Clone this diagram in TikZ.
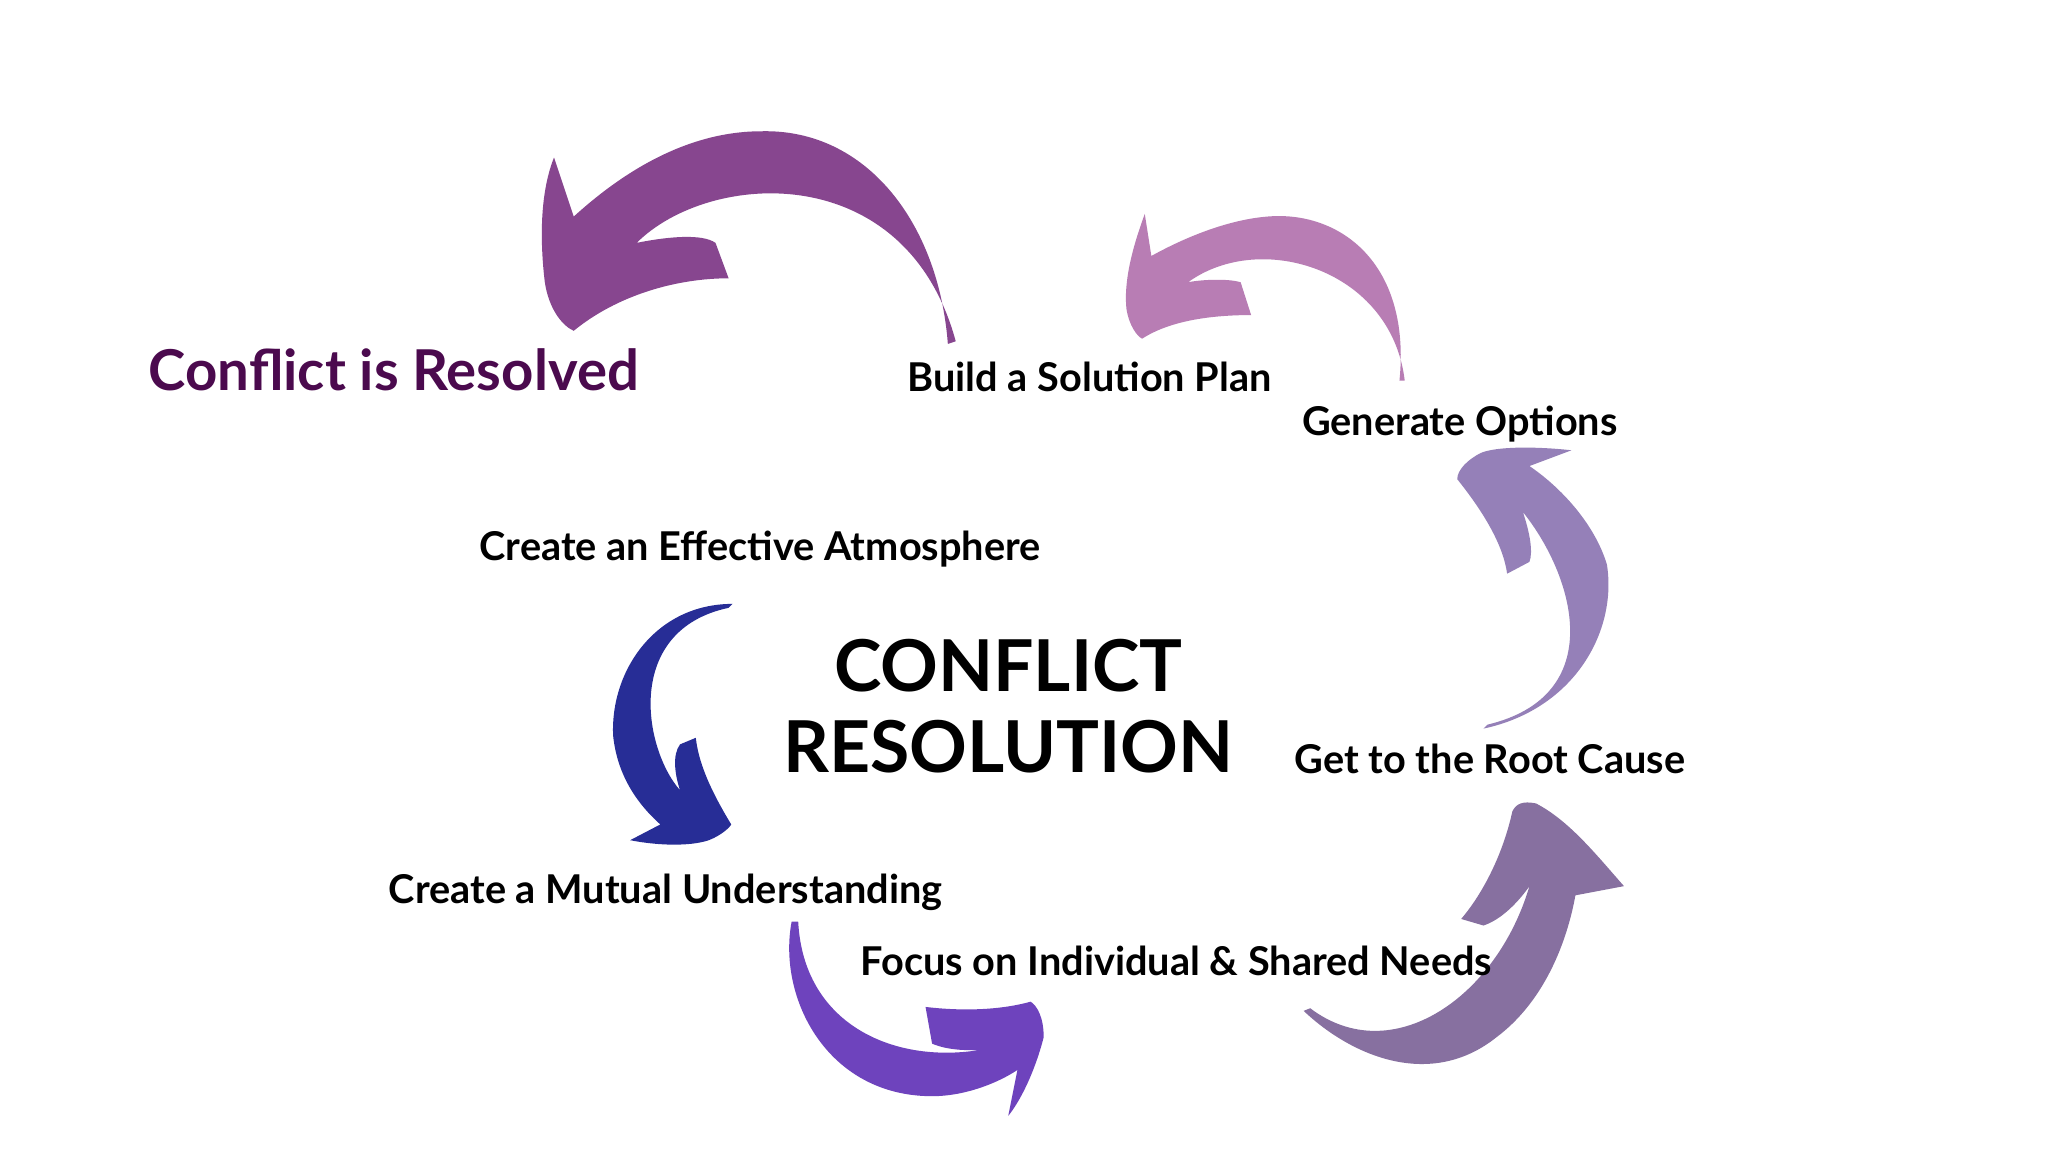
\documentclass[tikz,border=0pt]{standalone}
\usepackage{fontspec}
\setmainfont{Lato}
\begin{document}
\begin{tikzpicture}[x=0.01cm,y=-0.01cm,
  lbl/.style={font=\bfseries\fontsize{8.6}{10}\selectfont,text=black,inner sep=0pt},
  big/.style={font=\bfseries\fontsize{15.5}{18}\selectfont,text=black,inner sep=0pt}]
\definecolor{cA}{HTML}{87468F}
\definecolor{cB}{HTML}{B87DB4}
\definecolor{cC}{HTML}{9580B8}
\definecolor{cD}{HTML}{272D96}
\definecolor{cE}{HTML}{6E43BD}
\definecolor{cF}{HTML}{8770A0}
\definecolor{cR}{HTML}{4B0A4E}
\useasboundingbox[fill=white] (0,0) rectangle (1560,877);
% arrow 1
\fill[cA] (722,262) .. controls (715,170) and (660,98) .. (580,100) .. controls (520,100) and (470,135) .. (437,165)
  -- (422,120) .. controls (410,150) and (412,190) .. (415,215) .. controls (418,235) and (428,248) .. (437,252)
  .. controls (470,225) and (515,212) .. (555,212) -- (545,185) .. controls (535,178) and (510,180) .. (485,185)
  .. controls (540,130) and (690,120) .. (728,260) -- cycle;
% arrow 2
\fill[cB] (1066,290) .. controls (1075,200) and (1020,160) .. (965,165) .. controls (930,168) and (895,185) .. (877,195)
  -- (872,163) .. controls (862,190) and (856,215) .. (858,235) .. controls (860,248) and (866,256) .. (870,258)
  .. controls (890,245) and (920,240) .. (953,240) -- (945,215) .. controls (935,212) and (915,213) .. (905,215)
  .. controls (960,175) and (1060,205) .. (1070,290) -- cycle;
% arrow 3
\fill[cC] (1130,555) .. controls (1200,540) and (1232,480) .. (1224,430) .. controls (1215,400) and (1190,372) .. (1165,355)
  -- (1197,343) .. controls (1170,340) and (1140,340) .. (1128,345) .. controls (1118,350) and (1110,358) .. (1110,365)
  .. controls (1130,390) and (1145,415) .. (1148,437) -- (1165,428) .. controls (1168,420) and (1165,405) .. (1160,390)
  .. controls (1200,440) and (1225,530) .. (1133,552) -- cycle;
% arrow 4
\fill[cD] (558,460) .. controls (500,460) and (465,510) .. (467,560) .. controls (470,590) and (485,612) .. (503,628)
  -- (480,640) .. controls (500,644) and (525,645) .. (540,640) .. controls (550,636) and (556,630) .. (557,628)
  .. controls (540,600) and (532,580) .. (530,562) -- (518,567) .. controls (512,575) and (514,590) .. (518,602)
  .. controls (490,570) and (475,480) .. (555,463) -- cycle;
% arrow 5
\fill[cE] (603,702) .. controls (592,760) and (630,835) .. (710,835) .. controls (735,835) and (760,825) .. (775,815)
  -- (768,850) .. controls (780,835) and (790,810) .. (795,790) .. controls (795,775) and (790,766) .. (785,763)
  .. controls (760,770) and (730,770) .. (705,767) -- (710,795) .. controls (722,800) and (735,800) .. (745,800)
  .. controls (680,810) and (612,780) .. (608,702) -- cycle;
% arrow 6
\fill[cF] (993,770) .. controls (1030,805) and (1090,830) .. (1140,790) .. controls (1180,760) and (1195,710) .. (1200,682)
  -- (1237,675) .. controls (1215,650) and (1195,625) .. (1170,612) .. controls (1160,610) and (1155,612) .. (1152,618)
  .. controls (1145,650) and (1130,680) .. (1113,700) -- (1130,705) .. controls (1145,700) and (1158,685) .. (1165,675)
  .. controls (1140,760) and (1060,815) .. (998,768) -- cycle;
% texts
\node[lbl,font=\bfseries\fontsize{12.2}{14}\selectfont,text=cR] (res) at (300,282) {Conflict is Resolved};
\node[lbl] (plan) at (830,287) {Build a Solution Plan};
\node[lbl] (opt) at (1112,323) {Generate Options};
\node[lbl] (atm) at (579,418) {Create an Effective Atmosphere};
\node[big] (t1) at (768,507) {CONFLICT};
\node[big] (t2) at (768,569) {RESOLUTION};
\node[lbl] (root) at (1135,578) {Get to the Root Cause};
\node[lbl] (mut) at (507,680) {Create a Mutual Understanding};
\node[lbl] (foc) at (896,732) {Focus on Individual \& Shared Needs};
\end{tikzpicture}
\end{document}
